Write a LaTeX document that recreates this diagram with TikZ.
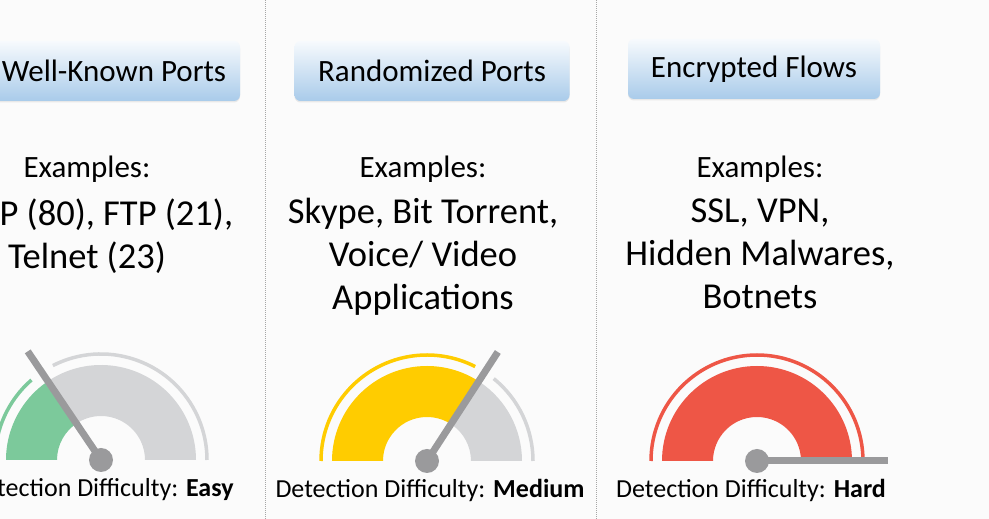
\documentclass[tikz,border=0pt]{standalone}
\usepackage{fontspec}
\setmainfont{Carlito}
\usetikzlibrary{shadows,calc}
\definecolor{bg}{HTML}{FBFBFB}
\definecolor{gtrack}{HTML}{D4D5D7}
\definecolor{needle}{HTML}{9A9A9C}
\definecolor{egreen}{HTML}{7CC99B}
\definecolor{myellow}{HTML}{FFCC00}
\definecolor{hred}{HTML}{EE5646}
\definecolor{boxtop}{HTML}{F7FAFD}
\definecolor{boxbot}{HTML}{A9CBEA}
\tikzset{
 hdr/.style={rounded corners=6pt, top color=boxtop, bottom color=boxbot, draw=none,
   minimum height=60pt, font=\fontsize{31}{34}\selectfont, drop shadow={shadow xshift=0pt,shadow yshift=-1.5pt,opacity=0.15}},
 exl/.style={font=\fontsize{31}{34}\selectfont},
 big/.style={font=\fontsize{36.5}{43}\selectfont, align=center},
 diff/.style={font=\fontsize{26}{29}\selectfont},
 sep/.style={draw=gray!70, densely dotted, line width=1pt},
 ndl/.style={draw=needle, line width=7pt},
 piv/.style={fill=needle, circle, inner sep=0pt, minimum size=24pt}
}
\newcommand{\band}[4]{%
 \fill[#4] ($#1+(#2:95)$) arc[start angle=#2,end angle=#3,radius=95] -- ($#1+(#3:44)$) arc[start angle=#3,end angle=#2,radius=44] -- cycle;}
\newcommand{\thin}[4]{\draw[#4,line width=3.5pt] ($#1+(#2:106)$) arc[start angle=#2,end angle=#3,radius=106];}
\begin{document}
\begin{tikzpicture}[x=1pt,y=1pt]
\fill[bg] (0,0) rectangle (989,519);
\clip (0,0) rectangle (989,519);
\useasboundingbox (0,0) rectangle (989,519);
\draw[sep] (265,0) -- (265,519);
\draw[sep] (596,0) -- (596,519);
% headers
\node[hdr, minimum width=252pt] (h1) at (114,448) {Well-Known Ports};
\node[hdr, minimum width=275pt] (h2) at (432,448) {Randomized Ports};
\node[hdr, minimum width=252pt] (h3) at (754,450) {Encrypted Flows};
% examples
\node[exl] (e1) at (87,350) {Examples:};
\node[exl] (e2) at (423,350) {Examples:};
\node[exl] (e3) at (760,350) {Examples:};
\node[big, anchor=north] (t1) at (87,324) {HTTP (80), FTP (21),\\Telnet (23)};
\node[big, anchor=north] (t2) at (423,324) {Skype, Bit Torrent,\\Voice/ Video\\Applications};
\node[big, anchor=north] (t3) at (760,324) {SSL, VPN,\\Hidden Malwares,\\Botnets};
% gauge 1
\coordinate (c1) at (101,59);
\band{(c1)}{180}{122}{egreen}
\band{(c1)}{126}{0}{gtrack}
\thin{(c1)}{180}{131}{egreen}
\thin{(c1)}{117}{0}{gtrack}
\coordinate (n1) at ($(c1)+(124:131)$);
\draw[ndl] (c1) -- (n1);
\node[piv] (p1) at (c1) {};
% gauge 2
\coordinate (c2) at (427,58);
\band{(c2)}{180}{58}{myellow}
\band{(c2)}{56}{0}{gtrack}
\thin{(c2)}{180}{63}{myellow}
\thin{(c2)}{51}{0}{gtrack}
\coordinate (n2) at ($(c2)+(57:130)$);
\draw[ndl] (c2) -- (n2);
\node[piv] (p2) at (c2) {};
% gauge 3
\coordinate (c3) at (757,58);
\band{(c3)}{180}{0}{hred}
\thin{(c3)}{180}{0}{hred}
\coordinate (n3) at ($(c3)+(131,0)$);
\draw[ndl] (c3) -- (n3);
\node[piv] (p3) at (c3) {};
% labels
\node[diff] (d1) at (101,29) {Detection Difficulty: \textbf{Easy}};
\node[diff] (d2) at (430,29) {Detection Difficulty: \textbf{Medium}};
\node[diff] (d3) at (751,29) {Detection Difficulty: \textbf{Hard}};
\end{tikzpicture}
\end{document}
